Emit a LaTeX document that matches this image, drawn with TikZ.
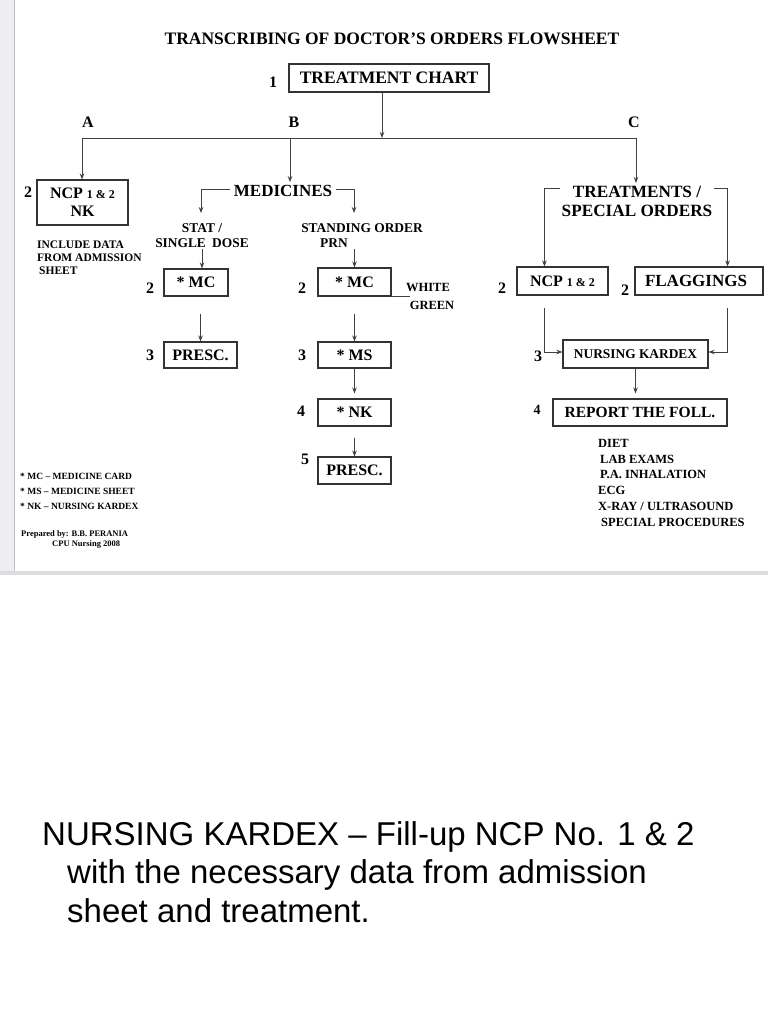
\documentclass[tikz,border=0pt]{standalone}
\usepackage{fontspec}
\setmainfont{Liberation Serif}
\newfontfamily\slidefont{Liberation Sans}
\usetikzlibrary{arrows.meta,calc}
\newcommand{\fsz}[2]{\fontsize{#1}{#2}\selectfont}
\begin{document}
\begin{tikzpicture}[x=1pt,y=-1pt,
  box/.style={draw=black!80,line width=1.1pt,inner sep=0pt,font=\bfseries\fsz{16}{18}},
  num/.style={font=\bfseries\fsz{16}{18},inner sep=0pt},
  lbl/.style={font=\bfseries\fsz{13.4}{15},inner sep=1pt,align=center},
  arr/.style={draw=black!75,line width=0.9pt,-{Stealth[length=6pt,width=4.5pt]}},
  ln/.style={draw=black!75,line width=0.9pt}]
\useasboundingbox[fill=white] (0,0) rectangle (768,1024);
\fill[blue!8!gray!12] (0,0) rectangle (14,573);
\draw[gray!50,line width=0.8pt] (14.5,0) -- (14.5,573);
\fill[blue!10!gray!25] (0,571) rectangle (768,575);
\node[font=\bfseries\fsz{17.5}{20}] (title) at (392,39) {TRANSCRIBING OF DOCTOR’S ORDERS FLOWSHEET};
\node[box,minimum width=200,minimum height=28,font=\bfseries\fsz{17.5}{19}] (chart) at (389,78) {TREATMENT CHART};
\node[num] (n1) at (273,82) {1};
\node[num] (lA) at (88,122) {A};
\node[num] (lB) at (294,122) {B};
\node[num] (lC) at (634,122) {C};
\coordinate (barA) at (82,138);
\coordinate (barB) at (290,138);
\coordinate (barC) at (636,138);
\coordinate (chartOut) at ([xshift=-7pt]chart.south);
\draw[ln] (barA) -- (barC);
\draw[arr] (chartOut) -- (chartOut |- barB);
\node[box,minimum width=91,minimum height=45,align=center] (ncpA) at (82.5,202.5) {NCP {\fsz{12}{14}1 \& 2}\\NK};
\node[num] (n2a) at (28,192) {2};
\draw[arr] (barA) -- (barA |- ncpA.north);
\node[font=\bfseries\fsz{11.5}{13},align=left,anchor=north west,inner sep=0pt] (incl) at (37,241) {INCLUDE DATA\\FROM ADMISSION\\\hspace*{2pt}SHEET};
\node[font=\bfseries\fsz{17}{19},inner xsep=4pt,inner ysep=3pt] (med) at (283,191) {MEDICINES};
\coordinate (statIn) at (201,213);
\coordinate (prnIn) at (354,213);
\draw[arr] (barB) -- (barB |- med.north);
\draw[arr] ([yshift=2pt]med.west) -| (statIn);
\draw[arr] ([yshift=2pt]med.east) -| (prnIn);
\node[lbl] (stat) at (202,235.5) {STAT /\\SINGLE\hspace{3pt} DOSE};
\node[lbl] (stand) at (362,228) {STANDING ORDER};
\node[lbl] (prn) at (334,243) {PRN};
\node[box,minimum width=64,minimum height=27] (mcL) at (196,282.5) {* MC};
\node[box,minimum width=73,minimum height=26] (prL) at (200.5,355) {PRESC.};
\node[num] (n2b) at (150,288) {2};
\node[num] (n3b) at (150,355) {3};
\draw[arr] (stat.south) -- (stat.south |- mcL.north);
\draw[arr] ($(mcL.south -| prL.north)+(0,17)$) -- (prL.north);
\node[box,minimum width=73,minimum height=28] (mcR) at (354.5,282) {* MC};
\node[box,minimum width=73,minimum height=26] (msR) at (354.5,355) {* MS};
\node[box,minimum width=73,minimum height=27] (nkR) at (354.5,412.5) {* NK};
\node[box,minimum width=73,minimum height=27] (prR) at (354.5,470.5) {PRESC.};
\node[num] (n2c) at (302,288) {2};
\node[num] (n3c) at (302,355) {3};
\node[num] (n4c) at (301,411) {4};
\node[num] (n5c) at (305,459) {5};
\draw[arr] (prn.south -| mcR.north) -- (mcR.north);
\draw[arr] ($(mcR.south)+(0,17)$) -- (msR.north);
\draw[arr,shorten >=5pt] (msR.south) -- (nkR.north);
\draw[arr] ($(nkR.south)+(0,11)$) -- (prR.north);
\node[font=\bfseries\fsz{12.5}{14},inner sep=0pt] (white) at (428,288) {WHITE};
\node[font=\bfseries\fsz{12.5}{14},inner sep=0pt] (green) at (432,305) {GREEN};
\draw[ln] (mcR.south east) -- (mcR.south east -| green.west);
\node[font=\bfseries\fsz{17.2}{19},align=center,inner xsep=2pt,inner ysep=3pt] (treat) at (637,201.5) {TREATMENTS /\\SPECIAL ORDERS};
\draw[arr] (barC) -- (barC |- treat.north);
\node[box,minimum width=91,minimum height=28] (ncpC) at (562.5,281) {NCP {\fsz{12}{14}1 \& 2}};
\node[box,minimum width=128,minimum height=28,font=\bfseries\fsz{17}{19}] (flag) at (699,281) {\hspace*{-6pt}FLAGGINGS};
\coordinate (ncpIn) at ($(ncpC.north west)+(28,0)$);
\coordinate (flagIn) at ($(flag.north east)+(-36,0)$);
\draw[arr] ([yshift=13.5pt]treat.west) -| (ncpIn);
\draw[arr] ([yshift=13.5pt]treat.east) -| (flagIn);
\node[box,minimum width=145,minimum height=28,font=\bfseries\fsz{13.4}{15}] (nkC) at (635.5,354) {NURSING KARDEX};
\draw[arr] ($(ncpIn |- ncpC.south)+(0,12)$) |- ([yshift=2pt]nkC.west);
\draw[arr] ($(flagIn |- flag.south)+(0,12)$) |- ([yshift=2pt]nkC.east);
\node[box,minimum width=174,minimum height=27,font=\bfseries\fsz{15.5}{18}] (rep) at (640,412.5) {REPORT THE FOLL.};
\draw[arr,shorten >=5pt] (nkC.south) -- (nkC.south |- rep.north);
\node[num] (n2d) at (502,288) {2};
\node[num] (n2e) at (625,290) {2};
\node[num] (n3d) at (538,356) {3};
\node[num,font=\bfseries\fsz{14}{16}] (n4d) at (537,410) {4};
\node[font=\bfseries\fsz{12.5}{15.8},align=left,anchor=north west,inner sep=0pt] (tests) at (598,439) {DIET\\\hspace*{2pt}LAB EXAMS\\\hspace*{2pt}P.A. INHALATION\\ECG\\X-RAY / ULTRASOUND\\\hspace*{3pt}SPECIAL PROCEDURES};
\node[font=\bfseries\fsz{9.5}{15},align=left,anchor=north west,inner sep=0pt] (keys) at (20,473.5) {* MC -- MEDICINE CARD\\* MS -- MEDICINE SHEET\\* NK -- NURSING KARDEX};
\node[font=\bfseries\fsz{8.5}{10},align=left,anchor=north west,inner sep=0pt] (prep) at (21,530) {Prepared by: B.B. PERANIA\\\hspace*{31pt}CPU Nursing 2008};
\node[font=\slidefont\fsz{33}{38.5},align=left,anchor=north west,inner sep=0pt] (note) at (42,821) {NURSING KARDEX – Fill-up NCP No. 1 \& 2\\\hspace*{25pt}with the necessary data from admission\\\hspace*{25pt}sheet and treatment.};
\end{tikzpicture}
\end{document}
